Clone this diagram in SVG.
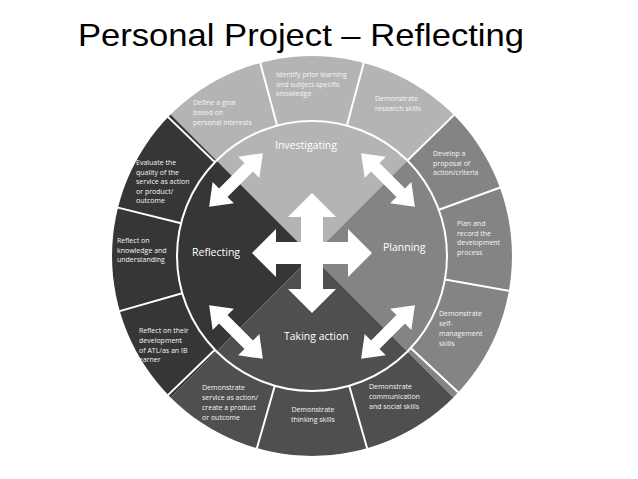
<svg xmlns="http://www.w3.org/2000/svg" width="638" height="479" viewBox="0 0 638 479">
<style>
.t{font-family:"Open Sans","Liberation Sans",sans-serif;font-size:7px;fill:#f4f4f4}
.q{font-family:"Open Sans","Liberation Sans",sans-serif;font-size:10.5px;fill:#fff}
.b{stroke:#fff;stroke-width:2;fill:none}
.w{fill:#fff}
</style>
<defs>
<path id="da" d="M-38,0 L-18,-15 L-18,-6 L18,-6 L18,-15 L38,0 L18,15 L18,6 L-18,6 L-18,15 Z"/>
</defs>
<rect width="638" height="479" fill="#fff"/>
<text x="78" y="46" font-family="Liberation Sans,Arial,sans-serif" font-size="32" fill="#000" textLength="446" lengthAdjust="spacingAndGlyphs">Personal Project – Reflecting</text>
<g id="investigating"><path d="M312,256 L170.6,114.6 A200,200 0 0 1 453.4,114.6 Z" fill="#b4b4b4"/></g>
<g id="planning"><path d="M312,256 L453.4,114.6 A200,200 0 0 1 453.4,397.4 Z" fill="#848484"/></g>
<g id="taking-action"><path d="M312,256 L453.4,397.4 A200,200 0 0 1 170.6,397.4 Z" fill="#4f4f4f"/></g>
<g id="reflecting"><path d="M312,256 L170.6,397.4 A200,200 0 0 1 170.6,114.6 Z" fill="#363636"/></g>
<g id="connectors">
<circle cx="312" cy="256" r="135" class="b" stroke-width="2.5"/>
<path class="b" d="M277.1,125.6L260,61.9M346.9,125.6L364,61.9M407.5,160.5L454.1,114.9M438.9,209.8L500.9,187.3M445,279.4L510,290.9M410.7,348.1L459,393.1M349.2,385.8L367.4,449.2M274.8,385.8L256.6,449.2M214.9,349.8L167.4,395.6M182.2,293.2L118.8,311.4M181,223.3L117,207.4M214.9,162.2L167.4,116.4"/>
<use href="#da" class="w" transform="translate(236,180) rotate(-45)"/>
<use href="#da" class="w" transform="translate(388,180) rotate(45)"/>
<use href="#da" class="w" transform="translate(388,332) rotate(-45)"/>
<use href="#da" class="w" transform="translate(236,332) rotate(45)"/>
<path class="w" transform="translate(312,253)" d="M0,-60L24,-36L11,-36L11,-11L36,-11L36,-24L60,0L36,24L36,11L11,11L11,36L24,36L0,60L-24,36L-11,36L-11,11L-36,11L-36,24L-60,0L-36,-24L-36,-11L-11,-11L-11,-36L-24,-36Z"/>
</g>
<g id="labels-inner">
<text class="q" x="306" y="149" text-anchor="middle">Investigating</text>
<text class="q" x="383" y="251">Planning</text>
<text class="q" x="192" y="256">Reflecting</text>
<text class="q" x="284" y="340">Taking action</text>
</g>
<g id="seg-define"><text class="t" x="193" y="105">Define a goal<tspan x="193" dy="10">based on</tspan><tspan x="193" dy="10">personal interests</tspan></text></g>
<g id="seg-identify"><text class="t" x="276" y="77">Identify prior learning<tspan x="276" dy="9.5">and subject-specific</tspan><tspan x="276" dy="9.5">knowledge</tspan></text></g>
<g id="seg-research"><text class="t" x="375" y="101">Demonstrate<tspan x="375" dy="10">research skills</tspan></text></g>
<g id="seg-develop"><text class="t" x="433" y="156">Develop a<tspan x="433" dy="9.7">proposal of</tspan><tspan x="433" dy="9.7">action/criteria</tspan></text></g>
<g id="seg-plan"><text class="t" x="457" y="226">Plan and<tspan x="457" dy="9.5">record the</tspan><tspan x="457" dy="9.5">development</tspan><tspan x="457" dy="9.5">process</tspan></text></g>
<g id="seg-self"><text class="t" x="439" y="316">Demonstrate<tspan x="439" dy="10">self-</tspan><tspan x="439" dy="10">management</tspan><tspan x="439" dy="10">skills</tspan></text></g>
<g id="seg-comm"><text class="t" x="369" y="389">Demonstrate<tspan x="369" dy="9.8">communication</tspan><tspan x="369" dy="9.8">and social skills</tspan></text></g>
<g id="seg-thinking"><text class="t" x="313" y="412" text-anchor="middle">Demonstrate<tspan x="313" dy="9.5">thinking skills</tspan></text></g>
<g id="seg-service"><text class="t" x="202" y="390">Demonstrate<tspan x="202" dy="10">service as action/</tspan><tspan x="202" dy="10">create a product</tspan><tspan x="202" dy="10">or outcome</tspan></text></g>
<g id="seg-atl"><text class="t" x="139" y="333">Reflect on their<tspan x="139" dy="9.8">development</tspan><tspan x="139" dy="9.8">of ATL/as an IB</tspan><tspan x="137" dy="9.8">learner</tspan></text></g>
<g id="seg-knowledge"><text class="t" x="117" y="243">Reflect on<tspan x="117" dy="9.7">knowledge and</tspan><tspan x="117" dy="9.7">understanding</tspan></text></g>
<g id="seg-evaluate"><text class="t" x="136" y="165">Evaluate the<tspan x="136" dy="9.6">quality of the</tspan><tspan x="136" dy="9.6">service as action</tspan><tspan x="136" dy="9.6">or product/</tspan><tspan x="136" dy="9.6">outcome</tspan></text></g>
</svg>
